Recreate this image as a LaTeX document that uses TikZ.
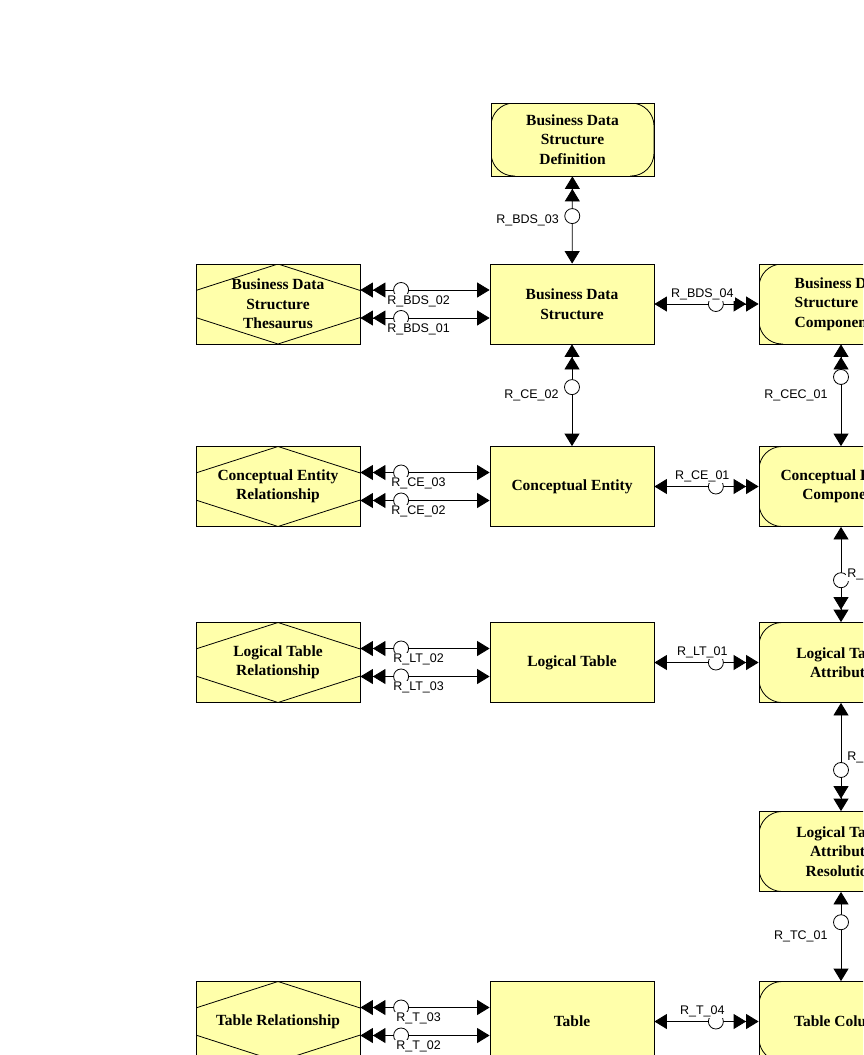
\documentclass[tikz,border=0pt]{standalone}
\usepackage{fontspec}
\setmainfont{Liberation Serif}
\setsansfont{Liberation Sans}
\usetikzlibrary{arrows.meta,calc}

\definecolor{entfill}{RGB}{255,255,170}

\tikzset{
  entity/.style={rectangle, draw=black, fill=entfill, minimum width=164pt, minimum height=80pt,
    inner sep=2pt, align=center, font=\bfseries\fontsize{15.5}{19.5}\selectfont},
  assoc/.style={entity, path picture={
      \draw ($(path picture bounding box.north west)!0.33!(path picture bounding box.south west)$)
        -- (path picture bounding box.north)
        -- ($(path picture bounding box.north east)!0.33!(path picture bounding box.south east)$);
      \draw ($(path picture bounding box.south west)!0.33!(path picture bounding box.north west)$)
        -- (path picture bounding box.south)
        -- ($(path picture bounding box.south east)!0.33!(path picture bounding box.north east)$);}},
  depend/.style={entity, path picture={
      \draw[rounded corners=23pt] ($(path picture bounding box.north west)+(24pt,0)$)
        -- (path picture bounding box.north west) -- (path picture bounding box.south west)
        -- ($(path picture bounding box.south west)+(24pt,0)$);}},
  stadium/.style={entity, path picture={
      \draw[rounded corners=23pt] ($(path picture bounding box.north west)+(24pt,0)$)
        -- (path picture bounding box.north west) -- (path picture bounding box.south west)
        -- ($(path picture bounding box.south west)+(24pt,0)$);
      \draw[rounded corners=23pt] ($(path picture bounding box.north east)+(-24pt,0)$)
        -- (path picture bounding box.north east) -- (path picture bounding box.south east)
        -- ($(path picture bounding box.south east)+(-24pt,0)$);}},
  ring/.style={circle, draw=black, fill=white, minimum size=15pt, inner sep=0pt},
  rel/.style={fill=white, inner sep=1pt, font=\sffamily\fontsize{12.5}{14}\selectfont},
  manyone/.style={<<->},
  oneone/.style={<->}
}

\begin{document}
\begin{tikzpicture}[x=1pt, y=-1pt, line width=0.8pt, >={Triangle[length=12.5pt,width=15pt]}]
  \useasboundingbox (0,0) rectangle (863,1055);
  \clip (0,0) rectangle (863,1055);

  % middle column
  \node[stadium, minimum width=163pt, minimum height=73pt] (bdsdef) at (572.5,139.5) {Business Data\\Structure\\Definition};
  \node[entity] (bds) at (572,304) {Business Data\\Structure};
  \node[entity] (ce) at (572,486.5) {Conceptual Entity};
  \node[entity] (lt) at (572,662.5) {Logical Table};
  \node[entity] (tbl) at (572,1021.5) {Table};

  % left column
  \node[assoc] (bdsthes) at (278,304) {Business Data\\Structure\\Thesaurus};
  \node[assoc] (cerel) at (278,486.5) {Conceptual Entity\\Relationship};
  \node[assoc] (ltrel) at (278,662.5) {Logical Table\\Relationship};
  \node[assoc] (trel) at (278,1021.5) {Table Relationship};

  % right column
  \node[depend, align=left] (bdscomp) at (841,304) {Business Data\\Structure\\Component};
  \node[depend] (cecomp) at (841,486.5) {Conceptual Entity\\Component};
  \node[depend] (ltattr) at (841,662.5) {Logical Table\\Attribute};
  \node[depend] (ltares) at (841,851.5) {Logical Table\\Attribute\\Resolution};
  \node[depend] (tcol) at (841,1021.5) {Table Column};

  % relationships
  \foreach \a/\b/\la/\lb in {bdsthes/bds/R\_BDS\_02/R\_BDS\_01, cerel/ce/R\_CE\_03/R\_CE\_02,
      ltrel/lt/R\_LT\_02/R\_LT\_03, trel/tbl/R\_T\_03/R\_T\_02}{
    \draw[manyone] ([yshift=14pt]\a.east) -- node[ring, pos=0.315] {} node[rel, pos=0.45, below=4pt] {\la} ([yshift=14pt]\b.west);
    \draw[manyone] ([yshift=-14pt]\a.east) -- node[ring, pos=0.315] {} node[rel, pos=0.45, below=4pt] {\lb} ([yshift=-14pt]\b.west);
  }
  \foreach \a/\b/\l in {bdscomp/bds/R\_BDS\_04, cecomp/ce/R\_CE\_01, ltattr/lt/R\_LT\_01, tcol/tbl/R\_T\_04}{
    \draw[manyone] (\a) -- node[ring, pos=0.41] {} node[rel, pos=0.54, above=3pt] {\l} (\b);
  }

  \draw[manyone] (bdsdef) -- node[ring, pos=0.455] {} node[rel, pos=0.5, left=12pt] {R\_BDS\_03} (bds);
  \draw[manyone] (bds) -- node[ring, pos=0.42] {} node[rel, pos=0.5, left=12pt] {R\_CE\_02} (ce);
  \draw[manyone] (bdscomp) -- node[ring, pos=0.32] {} node[rel, pos=0.5, left=12pt] {R\_CEC\_01} (cecomp);
  \draw[manyone] (ltattr) -- node[ring, pos=0.44] {} node[rel, pos=0.5, right=5pt] {R\_LTA\_01} (cecomp);
  \draw[manyone] (ltares) -- node[ring, pos=0.38] {} node[rel, pos=0.5, right=5pt] {R\_LTA\_02} (ltattr);
  \draw[oneone] (ltares) -- node[ring, pos=0.34] {} node[rel, pos=0.5, left=12pt] {R\_TC\_01} (tcol);
\end{tikzpicture}
\end{document}
